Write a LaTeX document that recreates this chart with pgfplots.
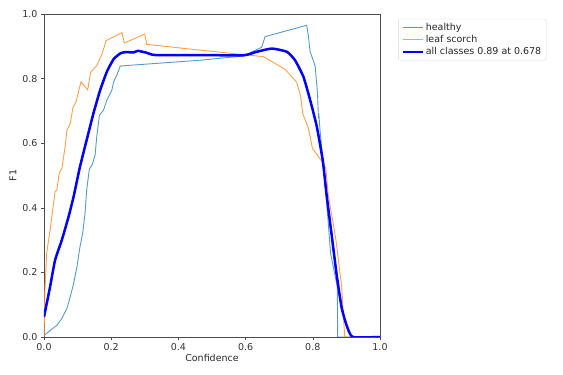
\documentclass[border=0pt]{standalone}
\usepackage{fontspec}
\setmainfont{DejaVu Sans}
\usepackage{pgfplots}
\pgfplotsset{compat=1.18}
\definecolor{tabblue}{HTML}{1F77B4}
\definecolor{taborange}{HTML}{FF7F0E}
\begin{document}
\begin{tikzpicture}
\begin{axis}[
  name=ax,
  scale only axis,
  width=336pt, height=323pt,
  xmin=0, xmax=1, ymin=0, ymax=1,
  xtick={0,0.2,0.4,0.6,0.8,1.0},
  ytick={0,0.2,0.4,0.6,0.8,1.0},
  xticklabel style={/pgf/number format/.cd,fixed,fixed zerofill,precision=1},
  yticklabel style={/pgf/number format/.cd,fixed,fixed zerofill,precision=1},
  /pgf/number format/assume math mode=true,
  tick align=outside,
  tick pos=left,
  major tick length=3pt,
  axis line style={black!70, line width=0.6pt},
  every tick/.style={black!70, line width=0.5pt},
  tick label style={font=\fontsize{9.5}{11}\selectfont, text=black!80},
  xlabel={Confidence}, ylabel={F1},
  label style={font=\fontsize{9.5}{11}\selectfont, text=black!85},
  xlabel style={yshift=3pt},
  ylabel style={yshift=-1pt},
  legend style={at={(1.054,0.985)}, anchor=north west, draw=black!15, rounded corners=2pt,
    font=\fontsize{9.5}{11}\selectfont, text=black!85, inner xsep=3pt, inner ysep=2pt,
    row sep=-0.5pt},
  legend cell align=left,
  legend image code/.code={\draw[#1] (0pt,0pt) -- (20pt,0pt);},
]
\addplot[tabblue!75, line width=0.9pt] coordinates {
(0,0.005) (0.018,0.02) (0.038,0.036) (0.053,0.057) (0.068,0.088) (0.078,0.124)
(0.088,0.165) (0.098,0.217) (0.107,0.279) (0.115,0.32) (0.122,0.382) (0.127,0.455)
(0.135,0.52) (0.144,0.535) (0.152,0.563) (0.157,0.62) (0.165,0.687) (0.177,0.702)
(0.187,0.733) (0.202,0.764) (0.207,0.79) (0.217,0.811) (0.227,0.839) (0.466,0.857)
(0.593,0.87) (0.648,0.897) (0.658,0.93) (0.782,0.965) (0.787,0.93) (0.792,0.884)
(0.807,0.839) (0.814,0.754) (0.817,0.676) (0.818,0.692) (0.821,0.647) (0.83,0.544)
(0.841,0.42) (0.853,0.258) (0.873,0.155) (0.874,0) (1,0)
};
\addlegendentry{healthy}
\addplot[taborange!75, line width=0.9pt] coordinates {
(0,0.0) (0.003,0.15) (0.008,0.26) (0.018,0.33) (0.028,0.41) (0.033,0.45) (0.038,0.455)
(0.046,0.51) (0.053,0.52) (0.063,0.59) (0.068,0.64) (0.078,0.66) (0.086,0.71)
(0.096,0.73) (0.11,0.79) (0.13,0.765) (0.139,0.82) (0.157,0.84) (0.172,0.875)
(0.18,0.9) (0.184,0.917) (0.232,0.942) (0.239,0.91) (0.30,0.938) (0.306,0.906)
(0.466,0.888) (0.653,0.868) (0.717,0.829) (0.752,0.789) (0.764,0.744) (0.77,0.692)
(0.787,0.646) (0.799,0.584) (0.828,0.542) (0.839,0.522) (0.846,0.44) (0.869,0.30)
(0.886,0.155) (0.895,0) (1,0)
};
\addlegendentry{leaf scorch}
\addplot[blue, line width=2.5pt, smooth, tension=0.3] coordinates {
(0,0.062) (0.018,0.155) (0.033,0.238) (0.053,0.3) (0.073,0.372) (0.088,0.434)
(0.107,0.527) (0.127,0.61) (0.147,0.692) (0.167,0.764) (0.187,0.821) (0.207,0.86)
(0.227,0.878) (0.242,0.882) (0.267,0.881) (0.279,0.886) (0.306,0.88) (0.331,0.873)
(0.466,0.873) (0.593,0.872) (0.633,0.883) (0.678,0.893) (0.723,0.883) (0.747,0.857)
(0.772,0.806) (0.792,0.734) (0.812,0.651) (0.83,0.544) (0.841,0.44) (0.856,0.317)
(0.871,0.193) (0.886,0.09) (0.901,0.035) (0.919,0) (1,0)
};
\addlegendentry{all classes 0.89 at 0.678}
\coordinate (ll) at (rel axis cs:0,0);
\end{axis}
\path (ll) ++(-44pt,-38pt) rectangle ++(563pt,375pt);
\end{tikzpicture}
\end{document}
